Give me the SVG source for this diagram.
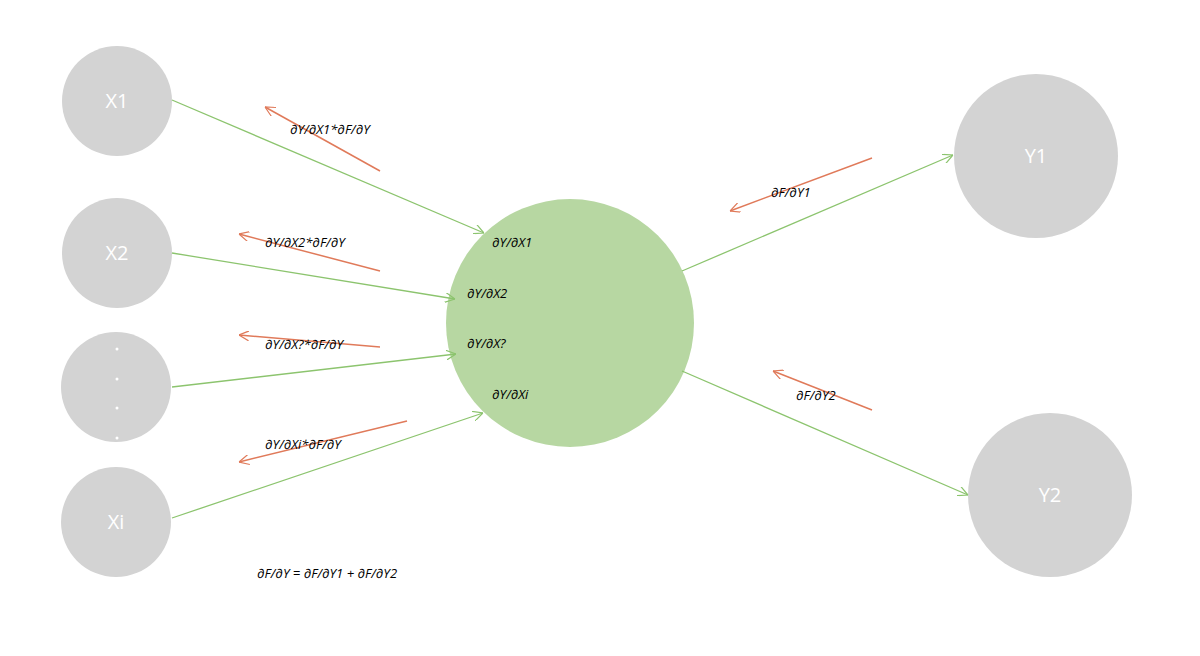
<svg xmlns="http://www.w3.org/2000/svg" width="1200" height="656" viewBox="0 0 1200 656">
<defs>
<marker id="ga" viewBox="0 0 10 10" refX="10" refY="5" markerWidth="10" markerHeight="10" markerUnits="userSpaceOnUse" orient="auto"><path d="M0,0 L10,5 L0,10" fill="none" stroke="#8cc46e" stroke-width="1.2"/></marker>
<marker id="ra" viewBox="0 0 10 10" refX="10" refY="5" markerWidth="10" markerHeight="10" markerUnits="userSpaceOnUse" orient="auto"><path d="M0,0 L10,5 L0,10" fill="none" stroke="#e07a5a" stroke-width="1.2"/></marker>
<style>
.n{fill:#d3d3d3}
.nl{font-family:"Open Sans","Liberation Sans",sans-serif;font-size:20px;fill:#fff;text-anchor:middle}
.g{stroke:#8cc46e;stroke-width:1.3;fill:none;marker-end:url(#ga)}
.r{stroke:#e07a5a;stroke-width:1.5;fill:none;marker-end:url(#ra)}
.t{font-family:"Open Sans","Liberation Sans",sans-serif;font-size:13px;font-style:italic;fill:#000}
</style>
</defs>
<rect width="1200" height="656" fill="#fff"/>
<g id="x1"><circle class="n" cx="117" cy="101" r="55"/><text class="nl" x="117" y="108">X1</text></g>
<g id="x2"><circle class="n" cx="117" cy="253" r="55"/><text class="nl" x="117" y="260">X2</text></g>
<g id="xdots"><circle class="n" cx="116" cy="387" r="55"/><g fill="#fff"><circle cx="117" cy="349" r="1.5"/><circle cx="117" cy="379" r="1.5"/><circle cx="117" cy="408" r="1.5"/><circle cx="117" cy="438" r="1.5"/></g></g>
<g id="xi"><circle class="n" cx="116" cy="522" r="55"/><text class="nl" x="116" y="529">Xi</text></g>
<g id="f"><circle cx="570" cy="323" r="124" fill="#b7d7a2"/>
<text class="t" x="492" y="247">∂Y/∂X1</text><text class="t" x="467" y="298">∂Y/∂X2</text><text class="t" x="467" y="348">∂Y/∂X?</text><text class="t" x="492" y="399">∂Y/∂Xi</text></g>
<g id="y1"><circle class="n" cx="1036" cy="156" r="82"/><text class="nl" x="1036" y="163">Y1</text></g>
<g id="y2"><circle class="n" cx="1050" cy="495" r="82"/><text class="nl" x="1050" y="502">Y2</text></g>
<g id="connectors">
<line class="g" x1="172" y1="100" x2="484" y2="233"/>
<line class="g" x1="172" y1="253" x2="455" y2="299"/>
<line class="g" x1="172" y1="387" x2="456" y2="354"/>
<line class="g" x1="172" y1="518" x2="483" y2="413"/>
<line class="g" x1="682" y1="271" x2="953" y2="155"/>
<line class="g" x1="682" y1="371" x2="968" y2="495"/>
<line class="r" x1="380" y1="171" x2="265" y2="107"/>
<line class="r" x1="380" y1="271" x2="239" y2="234"/>
<line class="r" x1="380" y1="347" x2="239" y2="335"/>
<line class="r" x1="407" y1="421" x2="239" y2="462"/>
<line class="r" x1="872" y1="158" x2="730" y2="211"/>
<line class="r" x1="872" y1="410" x2="773" y2="371"/>
</g>
<g id="labels">
<text class="t" x="290" y="134">∂Y/∂X1*∂F/∂Y</text>
<text class="t" x="265" y="247">∂Y/∂X2*∂F/∂Y</text>
<text class="t" x="265" y="349">∂Y/∂X?*∂F/∂Y</text>
<text class="t" x="265" y="449">∂Y/∂Xi*∂F/∂Y</text>
<text class="t" x="771" y="197">∂F/∂Y1</text>
<text class="t" x="796" y="400">∂F/∂Y2</text>
<text class="t" x="257" y="578">∂F/∂Y = ∂F/∂Y1 + ∂F/∂Y2</text>
</g>
</svg>
